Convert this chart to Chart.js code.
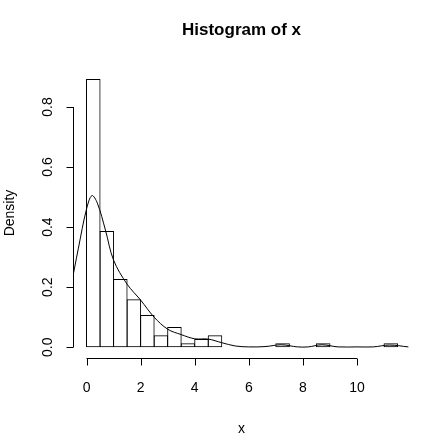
<!DOCTYPE html>
<html>
<head>
<meta charset="utf-8">
<script src="https://cdn.jsdelivr.net/npm/chart.js@4"></script>
<style>
  html, body { margin: 0; padding: 0; background: #fff; }
  #wrap { width: 424px; height: 445px; }
</style>
</head>
<body>
<div id="wrap"><canvas id="grafico" width="424" height="445"></canvas></div>
<script>
// ================= DATOS =================
const binCenters = [0.25,0.75,1.25,1.75,2.25,2.75,3.25,3.75,4.25,4.75,5.25,5.75,6.25,6.75,7.25,7.75,8.25,8.75,9.25,9.75,10.25,10.75,11.25];
const densities = [0.893,0.387,0.227,0.16,0.107,0.04,0.067,0.013,0.027,0.04,0,0,0,0,0.013,0,0,0.013,0,0,0,0,0.013];
const curveX = [-0.6,-0.3,0,0.2,0.4,0.7,1.0,1.5,2.0,2.5,3.0,3.5,4.0,4.5,5.0,5.5,6.0,6.6,7.2,7.8,8.2,8.7,9.3,10.0,10.6,11.2,11.9];
const curveY = [0.19,0.33,0.46,0.505,0.48,0.39,0.29,0.21,0.157,0.1,0.06,0.042,0.028,0.027,0.015,0.004,0.001,0.002,0.008,0.001,0.001,0.008,0.001,0.001,0.001,0.007,0.001];
const xTicks = [0,2,4,6,8,10];
const yTicks = [0.0,0.2,0.4,0.6,0.8];

const FONT = "'Liberation Sans', Arial, sans-serif";

// ================= EJES ESTILO R =================
const ejesR = {
  id: "ejesR",
  afterDraw(chart) {
    const { ctx, scales: { x, y }, chartArea } = chart;
    ctx.save();
    ctx.strokeStyle = "#000";
    ctx.fillStyle = "#000";
    ctx.lineWidth = 1;
    ctx.font = "14px " + FONT;

    // eje x
    const ay = chartArea.bottom + 0.5;
    ctx.beginPath();
    ctx.moveTo(x.getPixelForValue(xTicks[0]), ay);
    ctx.lineTo(x.getPixelForValue(xTicks[xTicks.length - 1]), ay);
    xTicks.forEach(t => {
      const px = Math.round(x.getPixelForValue(t)) + 0.5;
      ctx.moveTo(px, ay);
      ctx.lineTo(px, ay + 7);
    });
    ctx.stroke();
    ctx.textAlign = "center";
    ctx.textBaseline = "middle";
    xTicks.forEach(t => ctx.fillText(String(t), x.getPixelForValue(t), ay + 30));

    // eje y
    const ax = chartArea.left + 0.5;
    ctx.beginPath();
    ctx.moveTo(ax, y.getPixelForValue(yTicks[0]));
    ctx.lineTo(ax, y.getPixelForValue(yTicks[yTicks.length - 1]));
    yTicks.forEach(t => {
      const py = Math.round(y.getPixelForValue(t)) + 0.5;
      ctx.moveTo(ax, py);
      ctx.lineTo(ax - 7, py);
    });
    ctx.stroke();
    yTicks.forEach(t => {
      ctx.save();
      ctx.translate(ax - 25, y.getPixelForValue(t));
      ctx.rotate(-Math.PI / 2);
      ctx.fillText(t.toFixed(1), 0, 0);
      ctx.restore();
    });

    // titulos
    ctx.fillText("x", (chartArea.left + chartArea.right) / 2, 429);
    ctx.save();
    ctx.translate(10, (chartArea.top + chartArea.bottom) / 2);
    ctx.rotate(-Math.PI / 2);
    ctx.fillText("Density", 0, 0);
    ctx.restore();
    ctx.font = "bold 17px " + FONT;
    ctx.fillText("Histogram of x", (chartArea.left + chartArea.right) / 2, 30);
    ctx.restore();
  }
};

new Chart(document.getElementById("grafico").getContext("2d"), {
  data: {
    datasets: [
      {
        type: "line",
        xAxisID: "x2",
        data: curveX.map((v, i) => ({ x: v, y: curveY[i] })),
        borderColor: "#000",
        borderWidth: 1,
        pointRadius: 0,
        tension: 0.35
      },
      {
        type: "bar",
        xAxisID: "x",
        data: binCenters.map((v, i) => ({ x: v, y: densities[i] })),
        backgroundColor: "rgba(255,255,255,0)",
        borderColor: "#000",
        borderWidth: 1,
        borderSkipped: false,
        inflateAmount: 0,
        grouped: false,
        barPercentage: 1.074,   // solapa 1px para que los bordes coincidan
        categoryPercentage: 1
      }
    ]
  },
  options: {
    responsive: false,
    animation: false,
    layout: { padding: { left: 73, right: 14, top: 68, bottom: 87 } },
    plugins: { legend: { display: false }, tooltip: { enabled: false } },
    scales: {
      x: {
        type: "linear", offset: false, min: -0.5, max: 11.96, display: false,
        afterBuildTicks: (scale) => { scale.ticks = binCenters.map(v => ({ value: v })); }
      },
      x2: { type: "linear", position: "bottom", offset: false, min: -0.5, max: 11.96, display: false },
      y: { min: -0.036, max: 0.93, display: false }
    }
  },
  plugins: [ejesR]
});
</script>
</body>
</html>
